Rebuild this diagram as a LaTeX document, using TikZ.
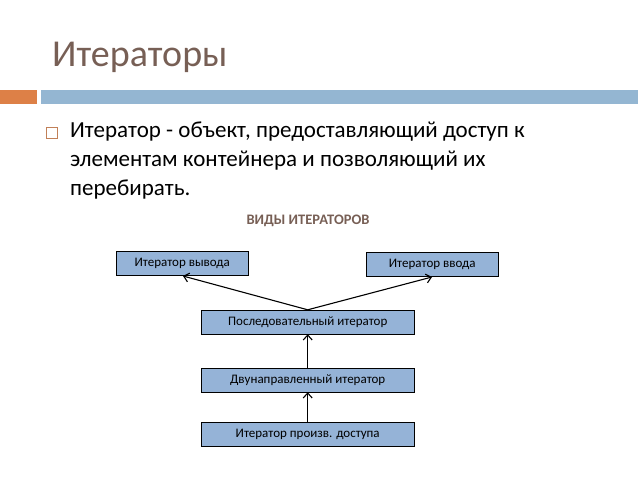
\documentclass[tikz,border=0pt]{standalone}
\usepackage{fontspec}
\setmainfont{Carlito}
\usetikzlibrary{arrows.meta}
\definecolor{titlec}{HTML}{775F55}
\definecolor{barblue}{HTML}{94B6D2}
\definecolor{barorange}{HTML}{DD8047}
\definecolor{boxc}{HTML}{95B3D7}
\begin{document}
\begin{tikzpicture}[x=1pt,y=-1pt,
  box/.style={draw=black,fill=boxc,text height=9,text depth=3,inner ysep=6,inner xsep=5,anchor=west,font=\fontsize{13}{15}\selectfont},
  arr/.style={-{Straight Barb[length=5,width=9]},line width=1.1}]
\useasboundingbox (0,0) rectangle (638,479);
\node[anchor=base west,text=titlec,font=\fontsize{38}{44}\selectfont,inner sep=0] (title) at (52,66) {Итераторы};
\fill[barorange] (0,90) rectangle (37,104);
\fill[barblue] (41,90) rectangle (638,104);
\node[draw=barorange!70!gray,line width=0.7,minimum size=11,inner sep=0] (bul) at (52,133) {};
\node[anchor=north west,align=left,inner sep=0,font=\fontsize{23}{29}\selectfont] (txt) at (70,122)
 {Итератор - объект, предоставляющий доступ к\\элементам контейнера и позволяющий их\\перебирать.};
\node[text=titlec,font=\bfseries\fontsize{14.5}{16}\selectfont] (head) at (308,221) {ВИДЫ ИТЕРАТОРОВ};
\node[box,minimum width=132] (out) at (116,263) {Итератор вывода};
\node[box,minimum width=132] (in) at (366,264) {Итератор ввода};
\node[box,minimum width=213] (seq) at (201,322) {Последовательный итератор};
\node[box,minimum width=213] (bi) at (201,380) {Двунаправленный итератор};
\node[box,minimum width=213] (ra) at (201,434) {Итератор произв. доступа};
\draw[arr] (seq.north) -- (183,276);
\draw[arr] (seq.north) -- (432,277);
\draw[arr] (bi.north) -- (seq.south);
\draw[arr] (ra.north) -- (bi.south);
\end{tikzpicture}
\end{document}
